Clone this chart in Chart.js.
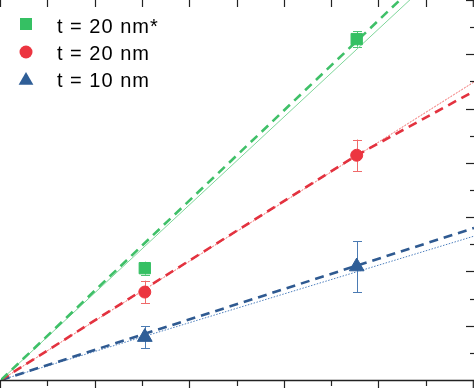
<!DOCTYPE html>
<html>
<head>
<meta charset="utf-8">
<script src="https://cdn.jsdelivr.net/npm/chart.js@4/dist/chart.umd.min.js"></script>
<style>
  body { margin: 0; background: #fff; }
  #wrap { width: 474px; height: 388px; position: relative; }
</style>
</head>
<body>
<div id="wrap"><canvas id="myChart"></canvas></div>
<script>
// measured points (x in axis units, y in axis units)
const xPoints = [1.52, 3.76];
const labels = ['t = 20 nm*', 't = 20 nm', 't = 10 nm'];

const green20s = [2.06, 6.28];
const green20sErr = [0.12, 0.14];
const red20 = [1.62, 4.14];
const red20Err = [0.21, 0.29];
const blue10 = [0.79, 2.09];
const blue10Err = [0.2, 0.47];

// fit lines
const fitX = [0, 5];
const greenDash = [0, 8.3];
const greenThin = [0, 8.1];
const redDashX = [0, 1.5, 3.75, 5];
const redDash = [0, 1.66, 4.13, 5.32];
const redThin = [0, 5.49];
const blueDash = [0, 2.8];
const blueThin = [0, 2.65];

// axis ranges
const xMax = 5, yMax = 7;

let pts = (xs, ys) => xs.map((x, i) => ({ x: x, y: ys[i] }));

const GREEN = '#35c063', RED = '#ec3540', BLUE = '#2f5e97';

let fitLine = (xs, ys, color, width, dash) => ({
  data: pts(xs, ys),
  borderColor: color,
  borderWidth: width,
  borderDash: dash,
  pointRadius: 0,
  fill: false,
  tension: 0,
  order: 2
});

let marker = (label, ys, color, style, r, err, errColor) => ({
  label: label,
  data: pts(xPoints, ys),
  showLine: false,
  pointStyle: style,
  pointRadius: r,
  pointBackgroundColor: color,
  pointBorderColor: color,
  backgroundColor: color,
  borderColor: color,
  err: err,
  errColor: errColor,
  order: 0
});

/* error bars, drawn under the markers */
const errorBars = {
  id: 'errorBars',
  beforeDatasetsDraw(chart) {
    const ctx = chart.ctx, xs = chart.scales.x, ys = chart.scales.y;
    chart.data.datasets.forEach(ds => {
      if (!ds.err) return;
      ctx.save();
      ctx.strokeStyle = ds.errColor;
      ctx.lineWidth = 1;
      ds.data.forEach((p, i) => {
        const px = Math.round(xs.getPixelForValue(p.x)) + 0.5;
        const top = ys.getPixelForValue(p.y + ds.err[i]);
        const bot = ys.getPixelForValue(p.y - ds.err[i]);
        ctx.beginPath();
        ctx.moveTo(px, top); ctx.lineTo(px, bot);
        ctx.moveTo(px - 4.5, Math.round(top) + 0.5); ctx.lineTo(px + 4.5, Math.round(top) + 0.5);
        ctx.moveTo(px - 4.5, Math.round(bot) + 0.5); ctx.lineTo(px + 4.5, Math.round(bot) + 0.5);
        ctx.stroke();
      });
      ctx.restore();
    });
  }
};

/* frame: bottom axis line, ticks on bottom / top / right, and the legend */
const frame = {
  id: 'frame',
  afterDraw(chart) {
    const ctx = chart.ctx, xs = chart.scales.x, ys = chart.scales.y, a = chart.chartArea;
    ctx.save();
    ctx.strokeStyle = '#222';
    ctx.lineWidth = 1.5;
    ctx.beginPath();
    ctx.moveTo(0, a.bottom + 0.5); ctx.lineTo(chart.width, a.bottom + 0.5);
    ctx.stroke();
    ctx.lineWidth = 1.2;
    for (let v = 0; v <= xMax + 0.001; v += 0.5) {
      const major = Math.abs(v - Math.round(v)) < 0.01;
      let px = Math.round(xs.getPixelForValue(v)) - 0.5;
      if (px > chart.width - 1) px = chart.width - 0.7;
      ctx.beginPath();
      ctx.moveTo(px, a.bottom); ctx.lineTo(px, a.bottom + (major ? 8 : 6));
      ctx.moveTo(px, 0); ctx.lineTo(px, 7);
      ctx.stroke();
    }
    for (let v = 0.5; v <= yMax + 0.001; v += 0.5) {
      const major = Math.abs(v - Math.round(v)) < 0.01;
      const py = Math.round(ys.getPixelForValue(v)) + 0.5;
      ctx.beginPath();
      ctx.moveTo(chart.width, py); ctx.lineTo(chart.width - (major ? 8 : 4), py);
      ctx.stroke();
    }
    // legend
    ctx.font = '20px "Liberation Sans", Arial, sans-serif';
    ctx.letterSpacing = '1px';
    ctx.textBaseline = 'alphabetic';
    const rows = [32.5, 59.5, 87];
    const icons = [
      { style: 'rect', r: 8.5, c: GREEN, dy: -8.5 },
      { style: 'circle', r: 6.5, c: RED, dy: -7.5 },
      { style: 'triangle', r: 8.5, c: BLUE, dy: -6.5 }
    ];
    rows.forEach((y, i) => {
      const ic = icons[i];
      ctx.fillStyle = ic.c;
      ctx.strokeStyle = ic.c;
      ctx.lineWidth = 0;
      Chart.helpers.drawPoint(ctx, { pointStyle: ic.style, radius: ic.r, rotation: 0, borderWidth: 0 }, 26, y + ic.dy);
      ctx.fillStyle = '#000';
      ctx.fillText(labels[i], 57, y);
    });
    ctx.restore();
  }
};

const ctx = document.getElementById('myChart');
const config = {
  type: 'line',
  data: {
    datasets: [
      marker(labels[0], green20s, GREEN, 'rect', 8, green20sErr, '#4cc474'),
      marker(labels[1], red20, RED, 'circle', 6, red20Err, '#f06a6a'),
      marker(labels[2], blue10, BLUE, 'triangle', 8.5, blue10Err, '#4b7bb3'),
      fitLine(fitX, greenDash, '#3fc068', 2.6, [9, 6]),
      fitLine(fitX, greenThin, '#7fd69a', 1, []),
      fitLine(redDashX, redDash, '#e3323f', 2.6, [9, 6]),
      fitLine(fitX, redThin, '#f26a6a', 1, [2, 1.2]),
      fitLine(fitX, blueDash, '#2f5a91', 2.6, [9, 6]),
      fitLine(fitX, blueThin, '#4d7fbd', 1, [1.5, 1.5])
    ]
  },
  options: {
    responsive: true,
    maintainAspectRatio: false,
    animation: false,
    layout: { autoPadding: false, padding: { left: 1, right: 0, top: 0, bottom: 8 } },
    scales: {
      x: { type: 'linear', min: 0, max: xMax, display: false },
      y: { type: 'linear', min: 0, max: yMax, display: false }
    },
    plugins: {
      legend: { display: false },
      tooltip: { enabled: false }
    }
  },
  plugins: [errorBars, frame]
};
let chart = new Chart(ctx, config);
</script>
</body>
</html>
